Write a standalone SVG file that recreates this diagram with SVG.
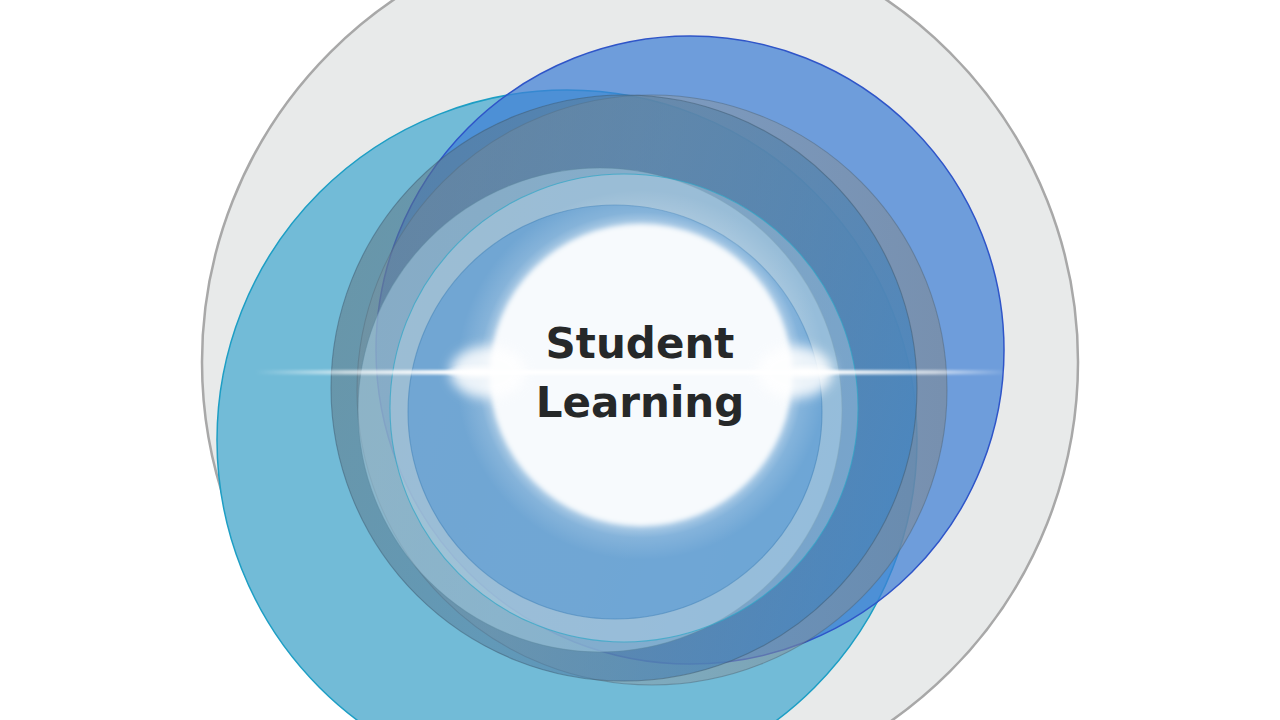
<svg xmlns="http://www.w3.org/2000/svg" width="1280" height="720" viewBox="0 0 1280 720">
  <defs>
    <radialGradient id="glow" cx="641" cy="375" r="185" gradientUnits="userSpaceOnUse">
      <stop offset="0.78" stop-color="#ffffff" stop-opacity="0.6"/>
      <stop offset="0.88" stop-color="#ffffff" stop-opacity="0.15"/>
      <stop offset="1" stop-color="#ffffff" stop-opacity="0"/>
    </radialGradient>
    <radialGradient id="flareSpot" cx="0.5" cy="0.5" r="0.5">
      <stop offset="0" stop-color="#ffffff" stop-opacity="1"/>
      <stop offset="0.35" stop-color="#ffffff" stop-opacity="0.7"/>
      <stop offset="1" stop-color="#ffffff" stop-opacity="0"/>
    </radialGradient>
    <linearGradient id="flareLine" x1="255" y1="0" x2="1010" y2="0" gradientUnits="userSpaceOnUse">
      <stop offset="0" stop-color="#ffffff" stop-opacity="0"/>
      <stop offset="0.12" stop-color="#ffffff" stop-opacity="0.6"/>
      <stop offset="0.28" stop-color="#ffffff" stop-opacity="1"/>
      <stop offset="0.72" stop-color="#ffffff" stop-opacity="1"/>
      <stop offset="0.9" stop-color="#ffffff" stop-opacity="0.6"/>
      <stop offset="1" stop-color="#ffffff" stop-opacity="0"/>
    </linearGradient>
    <linearGradient id="slateP" x1="330" y1="250" x2="917" y2="450" gradientUnits="userSpaceOnUse">
      <stop offset="0" stop-color="#60717a" stop-opacity="0.5"/>
      <stop offset="0.45" stop-color="#557d9e" stop-opacity="0.55"/>
      <stop offset="1" stop-color="#4285c3" stop-opacity="0.75"/>
    </linearGradient>
    <linearGradient id="slateQ" x1="358" y1="0" x2="947" y2="0" gradientUnits="userSpaceOnUse">
      <stop offset="0" stop-color="#9aa8b2" stop-opacity="0.35"/>
      <stop offset="1" stop-color="#7d8791" stop-opacity="0.6"/>
    </linearGradient>
    <filter id="blur2" x="-10%" y="-300%" width="120%" height="700%">
      <feGaussianBlur stdDeviation="1.3"/>
    </filter>
    <filter id="blur3" x="-20%" y="-20%" width="140%" height="140%">
      <feGaussianBlur stdDeviation="2.5"/>
    </filter>
    <filter id="blur6" x="-50%" y="-100%" width="200%" height="300%">
      <feGaussianBlur stdDeviation="6"/>
    </filter>
  </defs>
  <style>
    .ring { stroke-width: 1.1; }
    .label { font-family: "DejaVu Sans", "Liberation Sans", sans-serif; font-weight: 700; font-size: 42px; fill: #262829; text-anchor: middle; }
  </style>
  <rect width="1280" height="720" fill="#ffffff"/>
  <g id="outer-circle">
    <circle cx="640" cy="362" r="438" fill="#e8eaea" stroke="#a8a8a8" stroke-width="2.5"/>
  </g>
  <g id="teal-circle">
    <circle cx="567" cy="440" r="350" fill="#72bbd7" stroke="#1d9ec4" stroke-width="1.5"/>
  </g>
  <g id="blue-circle">
    <circle cx="690" cy="350" r="314" fill="#3f7fd6" fill-opacity="0.72" stroke="#2f55c8" stroke-width="1.5"/>
  </g>
  <g id="slate-circle-q">
    <circle class="ring" cx="652" cy="390" r="295" fill="url(#slateQ)" stroke="#4d6272" stroke-opacity="0.45"/>
  </g>
  <g id="slate-circle-p">
    <circle class="ring" cx="624" cy="388" r="293" fill="url(#slateP)" stroke="#3d5a70" stroke-opacity="0.5"/>
  </g>
  <g id="light-circle-v">
    <circle class="ring" cx="600" cy="410" r="242" fill="#b4dcef" fill-opacity="0.45" stroke="#5d8aa0" stroke-opacity="0.45"/>
  </g>
  <g id="light-circle-r">
    <circle class="ring" cx="624" cy="408" r="234" fill="#c2dcee" fill-opacity="0.35" stroke="#2fa6c6" stroke-opacity="0.7"/>
  </g>
  <g id="mid-blue-circle">
    <circle class="ring" cx="615" cy="412" r="207" fill="#4f93d2" fill-opacity="0.55" stroke="#3e7fb8" stroke-opacity="0.5"/>
  </g>
  <g id="center-glow">
    <circle cx="641" cy="375" r="185" fill="url(#glow)"/>
    <circle cx="641" cy="375" r="151" fill="#f7fafd" filter="url(#blur3)"/>
  </g>
  <g id="flare">
    <ellipse cx="488" cy="372" rx="38" ry="26" fill="#ffffff" opacity="0.85" filter="url(#blur6)"/>
    <ellipse cx="795" cy="372" rx="38" ry="26" fill="#ffffff" opacity="0.85" filter="url(#blur6)"/>
    <rect x="255" y="370" width="755" height="4.5" fill="url(#flareLine)" filter="url(#blur2)"/>
    <ellipse cx="478" cy="372" rx="34" ry="9" fill="url(#flareSpot)"/>
    <ellipse cx="805" cy="372" rx="34" ry="9" fill="url(#flareSpot)"/>
  </g>
  <g id="center-label">
    <text class="label" x="640" y="358">Student</text>
    <text class="label" x="640" y="417">Learning</text>
  </g>
</svg>
